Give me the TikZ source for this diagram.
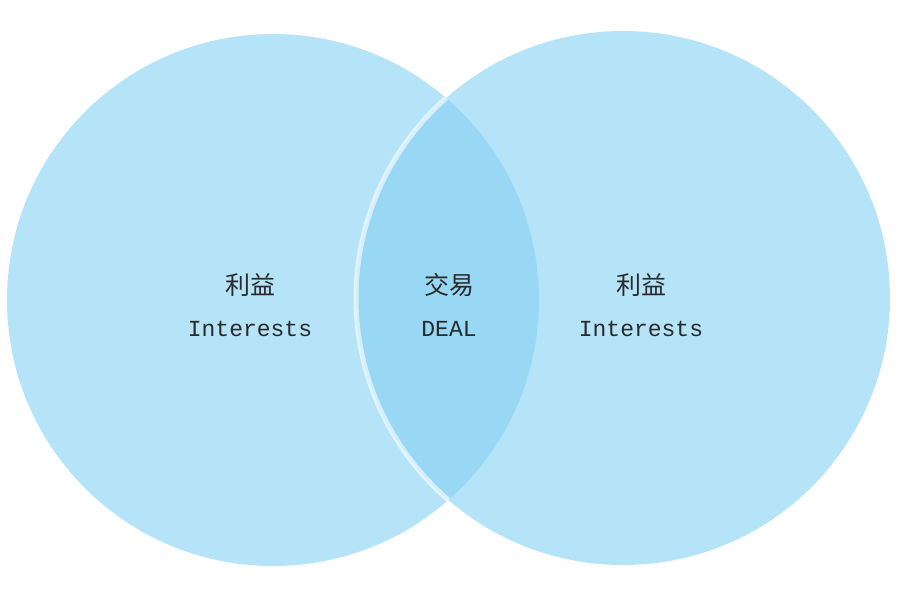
\documentclass[tikz,border=0pt]{standalone}
\usepackage{fontspec}
\newfontfamily\cjk{Noto Sans CJK SC}
\newfontfamily\mono{Liberation Mono}
\definecolor{circ}{HTML}{B5E4F8}
\definecolor{over}{HTML}{98D8F4}
\definecolor{txt}{HTML}{2A2A2A}
\tikzset{
  zh/.style={text=txt,font=\cjk\fontsize{25}{28}\selectfont},
  en/.style={text=txt,font=\mono\fontsize{23}{26}\selectfont}
}
\begin{document}
\begin{tikzpicture}[x=1pt,y=-1pt]
\useasboundingbox (0,0) rectangle (900,600);
\fill[circ] (273,300) circle (266);
\fill[circ] (623,298) circle (267);
\begin{scope}
  \clip (273,300) circle (266);
  \fill[over] (623,298) circle (267);
  \draw[white,opacity=0.6,line width=5] (623,298) circle (267);
\end{scope}
\node[zh] (l1) at (250,285) {利益};
\node[en] (l2) at (250,329) {Interests};
\node[zh] (c1) at (449,285) {交易};
\node[en] (c2) at (449,329) {DEAL};
\node[zh] (r1) at (641,285) {利益};
\node[en] (r2) at (641,329) {Interests};
\end{tikzpicture}
\end{document}
